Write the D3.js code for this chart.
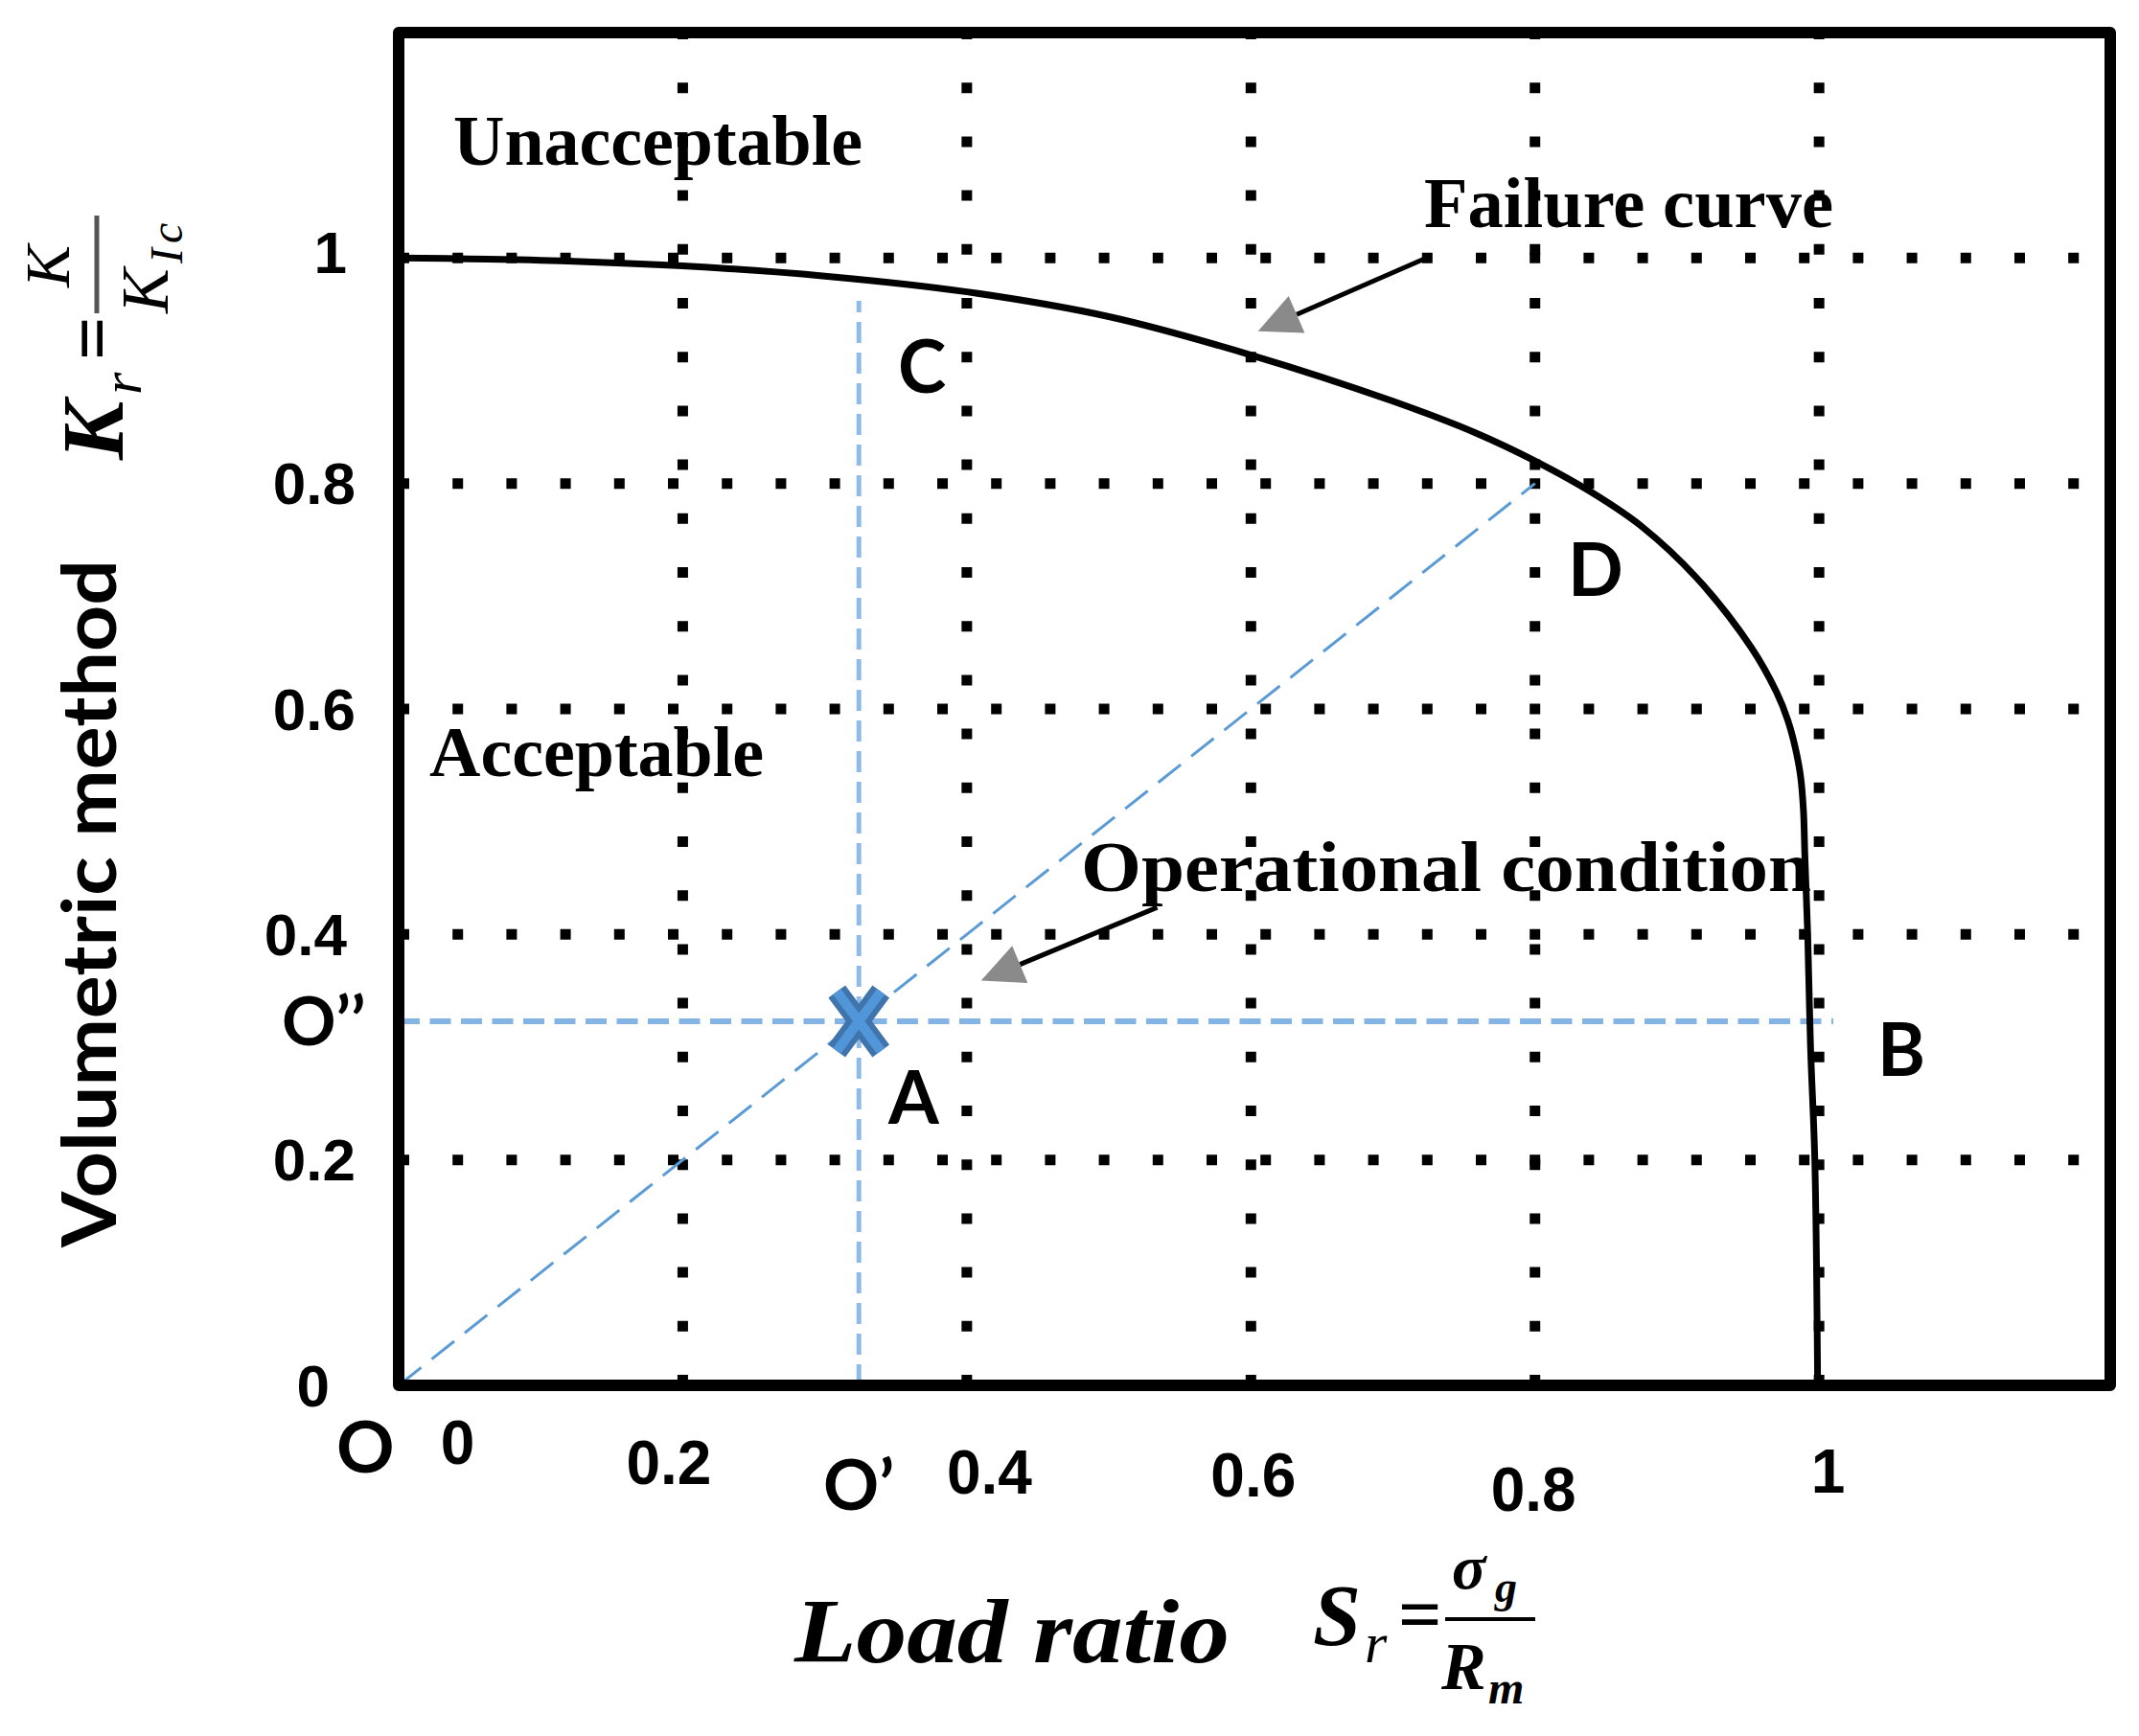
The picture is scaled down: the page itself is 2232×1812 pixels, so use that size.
<!DOCTYPE html>
<html>
<head>
<meta charset="utf-8">
<script src="https://cdn.jsdelivr.net/npm/d3@7.9.0/dist/d3.min.js"></script>
<style>
  body { margin: 0; background: #fff; }
  svg { display: block; }
  .serif { font-family: "Liberation Serif", "Times New Roman", serif; }
  .sans { font-family: Lato, "Open Sans", sans-serif; }
  .tick text { font-family: "Liberation Sans Narrow", "Liberation Sans", Arial, sans-serif; font-stretch: condensed; }
</style>
</head>
<body>
<svg width="2232" height="1812"></svg>
<script>
// failure curve (load ratio Sr, Kr)
const curveX = [0, 0.1, 0.2, 0.3, 0.4, 0.5, 0.6, 0.7, 0.758, 0.8, 0.84, 0.875, 0.914, 0.952, 0.970, 0.978, 0.983, 0.987, 0.989, 0.990, 0.992, 0.994, 0.997, 0.999];
const curveY = [1.0, 0.998, 0.993, 0.984, 0.970, 0.948, 0.914, 0.873, 0.845, 0.820, 0.792, 0.762, 0.716, 0.655, 0.615, 0.590, 0.567, 0.540, 0.510, 0.470, 0.400, 0.300, 0.200, 0];

const xTicks = [0, 0.2, 0.4, 0.6, 0.8, 1];
const yTicks = [0, 0.2, 0.4, 0.6, 0.8, 1];

// operating point A and its construction lines
const opPoint = [0.324, 0.323];
const loadLineX = [0, 0.8];
const loadLineY = [0, 0.8];
const vertTop = 0.962;   // O' up to C
const horizEnd = 1.01;   // O'' across to B

// annotation arrows [fromX, fromY, toX, toY]
const arrowFailure = [0.727, 1.002, 0.605, 0.935];
const arrowOperation = [0.534, 0.424, 0.410, 0.359];

const svg = d3.select("svg");
const x = d3.scaleLinear().domain([0, 1.205]).range([416, 2202]);
const y = d3.scaleLinear().domain([0, 1.2]).range([1446, 34]);

// dotted grid
const grid = svg.append("g")
  .attr("stroke", "#000")
  .attr("stroke-width", 11)
  .attr("stroke-dasharray", "11,45.2");
grid.selectAll(".gx").data(xTicks.slice(1)).join("line")
  .attr("x1", d => x(d)).attr("x2", d => x(d))
  .attr("y1", y(0)).attr("y2", y.range()[1]);
grid.selectAll(".gy").data(yTicks.slice(1)).join("line")
  .attr("y1", d => y(d)).attr("y2", d => y(d))
  .attr("x1", x(0)).attr("x2", x.range()[1]);

// construction lines
svg.append("line")
  .attr("x1", x(loadLineX[0])).attr("y1", y(loadLineY[0]))
  .attr("x2", x(loadLineX[1])).attr("y2", y(loadLineY[1]))
  .attr("stroke", "#5b9bd5").attr("stroke-width", 3)
  .attr("stroke-dasharray", "30,14");
svg.append("line")
  .attr("x1", x(opPoint[0])).attr("y1", y(0))
  .attr("x2", x(opPoint[0])).attr("y2", y(vertTop))
  .attr("stroke", "#8fbbe6").attr("stroke-width", 5)
  .attr("stroke-dasharray", "22,10");
svg.append("line")
  .attr("x1", x(0)).attr("y1", y(opPoint[1]))
  .attr("x2", x(horizEnd)).attr("y2", y(opPoint[1]))
  .attr("stroke", "#84b4e3").attr("stroke-width", 6)
  .attr("stroke-dasharray", "22,10.5");

// failure curve
const line = d3.line()
  .x(d => x(d[0])).y(d => y(d[1]))
  .curve(d3.curveCatmullRom.alpha(0.5));
svg.append("path")
  .datum(d3.zip(curveX, curveY))
  .attr("d", line)
  .attr("fill", "none")
  .attr("stroke", "#000")
  .attr("stroke-width", 7);

// marker X at A
const cx = x(opPoint[0]), cy = y(opPoint[1]);
const xPath = `M${cx - 23},${cy - 31}L${cx + 23},${cy + 31}M${cx + 23},${cy - 31}L${cx - 23},${cy + 31}`;
svg.append("path").attr("d", xPath).attr("stroke", "#3f74ad").attr("stroke-width", 22).attr("fill", "none");
svg.append("path").attr("d", xPath).attr("stroke", "#5196d8").attr("stroke-width", 10).attr("fill", "none");

// arrows
function arrow(a) {
  const x1 = x(a[0]), y1 = y(a[1]), x2 = x(a[2]), y2 = y(a[3]);
  const len = Math.hypot(x2 - x1, y2 - y1);
  const ux = (x2 - x1) / len, uy = (y2 - y1) / len;
  const bx = x2 - ux * 44, by = y2 - uy * 44;
  svg.append("line")
    .attr("x1", x1).attr("y1", y1).attr("x2", bx).attr("y2", by)
    .attr("stroke", "#000").attr("stroke-width", 5);
  svg.append("path")
    .attr("d", `M${x2},${y2}L${bx - uy * 21},${by + ux * 21}L${bx + uy * 21},${by - ux * 21}Z`)
    .attr("fill", "#8a8a8a");
}
arrow(arrowFailure);
arrow(arrowOperation);

// frame
svg.append("rect")
  .attr("x", x(0)).attr("y", y.range()[1])
  .attr("width", x.range()[1] - x(0)).attr("height", y(0) - y.range()[1])
  .attr("fill", "none").attr("stroke", "#000").attr("stroke-width", 12)
  .attr("stroke-linejoin", "round");

// tick labels
const fmt = d => String(d);
const yNudge = {0: -27, 1: -9, 0.4: -9};
const yAxis = svg.append("g")
  .attr("transform", `translate(${x(0)},0)`)
  .call(d3.axisLeft(y).tickValues(yTicks).tickSize(0).tickPadding(45).tickFormat(fmt));
yAxis.select(".domain").remove();
yAxis.selectAll("text")
  .attr("font-size", 62).attr("font-weight", "bold").attr("fill", "#000")
  .attr("dx", d => yNudge[d] || 0)
  .attr("dy", d => d === 1 ? "0.25em" : "0.34em");

const xNudge = {0: [61, -24], 0.2: [-15, -3], 0.4: [23, 7], 0.6: [2, 10], 0.8: [-2, 25], 1: [9, 6]};
const xAxis = svg.append("g")
  .attr("transform", `translate(0,${y(0)})`)
  .call(d3.axisBottom(x).tickValues(xTicks).tickSize(0).tickPadding(0).tickFormat(fmt));
xAxis.select(".domain").remove();
xAxis.selectAll("text")
  .attr("font-size", 64).attr("font-weight", "bold").attr("fill", "#000")
  .attr("dy", null)
  .attr("x", d => xNudge[d][0])
  .attr("y", d => 106 + xNudge[d][1]);

// region and curve labels
function label(text, px, py, size, cls, opts = {}) {
  const t = svg.append("text")
    .attr("x", px).attr("y", py)
    .attr("class", cls)
    .attr("font-size", size)
    .attr("font-weight", opts.weight || "bold")
    .text(text);
  if (opts.italic) t.attr("font-style", "italic");
  if (opts.len) t.attr("textLength", opts.len).attr("lengthAdjust", "spacingAndGlyphs");
  return t;
}
label("Unacceptable", 473, 172, 73, "serif", {len: 427});
label("Acceptable", 448, 810, 73, "serif", {len: 349});
label("Failure curve", 1486, 237, 74, "serif", {len: 427});
label("Operational condition", 1128, 930, 73, "serif", {len: 762});

label("C", 937, 410, 76, "sans");
label("D", 1636, 622, 76, "sans");
label("A", 927, 1173, 76, "sans");
label("B", 1959, 1123, 76, "sans");
label("O\u2019\u2019", 294, 1091, 70, "sans");
label("O", 351, 1537, 75, "sans");
label("O\u2019", 859, 1576, 72, "sans");

// y title
svg.append("text")
  .attr("class", "sans")
  .attr("transform", "translate(121,1302) rotate(-90)")
  .attr("font-size", 78).attr("font-weight", "bold")
  .attr("textLength", 718).attr("lengthAdjust", "spacingAndGlyphs")
  .text("Volumetric method");

// Kr = K / K_Ic, rotated
const kr = svg.append("g")
  .attr("class", "serif")
  .attr("font-style", "italic")
  .attr("transform", "translate(128,480) rotate(-90)");
kr.append("text").attr("x", 0).attr("y", 0).attr("font-size", 92).attr("font-weight", "bold").text("K");
kr.append("text").attr("x", 68).attr("y", 19).attr("font-size", 60).text("r");
kr.append("text").attr("x", 104).attr("y", -5).attr("font-size", 80).attr("font-style", "normal").attr("font-weight", "bold").text("=");
kr.append("line").attr("x1", 153).attr("x2", 255).attr("y1", -27).attr("y2", -27)
  .attr("stroke", "#555").attr("stroke-width", 5);
kr.append("text").attr("x", 180).attr("y", -56).attr("font-size", 66).text("K");
kr.append("text").attr("x", 153).attr("y", 47).attr("font-size", 70).text("K");
kr.append("text").attr("x", 205).attr("y", 62).attr("font-size", 48).text("Ic")
  .attr("letter-spacing", 5);

// x title
label("Load ratio", 829, 1735, 96, "serif", {italic: true, len: 454});
const sr = svg.append("g").attr("class", "serif").attr("font-style", "italic");
sr.append("text").attr("x", 1370).attr("y", 1717).attr("font-size", 90).attr("font-weight", "bold").text("S");
sr.append("text").attr("x", 1424).attr("y", 1735).attr("font-size", 60).text("r");
sr.append("text").attr("x", 1459).attr("y", 1712).attr("font-size", 80).attr("font-style", "normal").attr("font-weight", "bold").text("=");
sr.append("line").attr("x1", 1508).attr("x2", 1602).attr("y1", 1690).attr("y2", 1690)
  .attr("stroke", "#000").attr("stroke-width", 4);
sr.append("text").attr("x", 1515).attr("y", 1658).attr("font-size", 66).attr("font-weight", "bold").text("\u03c3");
sr.append("text").attr("x", 1560).attr("y", 1672).attr("font-size", 46).attr("font-weight", "bold").text("g");
sr.append("text").attr("x", 1504).attr("y", 1763).attr("font-size", 70).attr("font-weight", "bold").text("R");
sr.append("text").attr("x", 1553).attr("y", 1778).attr("font-size", 48).attr("font-weight", "bold").text("m");
</script>
</body>
</html>
